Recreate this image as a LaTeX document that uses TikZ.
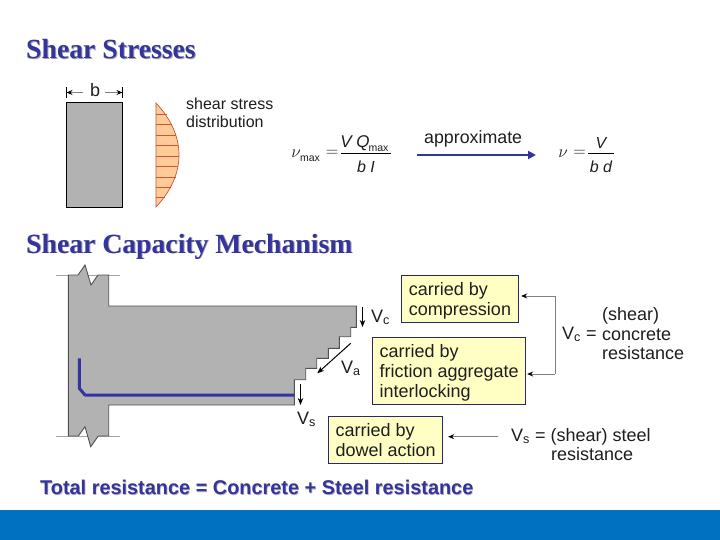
\documentclass[tikz,border=0pt]{standalone}
\usepackage{fontspec}
\usepackage{amsmath}
\setmainfont{Liberation Sans}
\newfontfamily\titlefont{Liberation Serif}
\usepackage{xcolor}
\usetikzlibrary{arrows.meta, positioning, calc}
\definecolor{titleblue}{RGB}{52, 52, 160}
\definecolor{barblue}{RGB}{0, 112, 192}
\definecolor{concrete}{RGB}{178, 178, 178}
\definecolor{notefill}{RGB}{255, 255, 196}
\definecolor{notedraw}{RGB}{40, 40, 110}
\definecolor{stressfill}{RGB}{255, 204, 153}
\definecolor{stressline}{RGB}{205, 85, 50}
\definecolor{inktext}{RGB}{30, 30, 30}
\newcommand{\notestrut}{\rule{0pt}{17.5pt}}
\tikzset{
    heading/.style={anchor=base west, inner sep=0pt, font=\titlefont\bfseries\fontsize{27.7}{28}\selectfont},
    totaltext/.style={anchor=base west, inner sep=0pt, font=\bfseries\fontsize{19.9}{20}\selectfont},
    label/.style={anchor=base west, inner sep=0pt, text=inktext, font=\fontsize{18}{19.5}\selectfont, align=left},
    note/.style={draw=notedraw, fill=notefill, line width=0.9pt, inner sep=0pt, align=left, text=inktext, font=\fontsize{18}{20}\selectfont},
    link/.style={draw=gray, line width=1pt, -{Stealth[black, length=6pt, width=5pt]}},
    force/.style={->, line width=1pt, >={Stealth[length=7pt, width=5.5pt]}},
    mathit/.style={inner sep=0pt, text=inktext, font=\itshape\fontsize{16}{16}\selectfont},
    mathrm/.style={inner sep=0pt, text=inktext, font=\fontsize{17}{17}\selectfont},
    smalltext/.style={inner sep=0pt, text=inktext, font=\fontsize{10.5}{11}\selectfont},
}
\begin{document}
\begin{tikzpicture}[x=1pt, y=-1pt, >=Stealth]
    \useasboundingbox (0,0) rectangle (720,540);
    \fill[white] (0,0) rectangle (720,540);
    \fill[barblue] (0,510) rectangle (720,540);

    % headings
    \node[heading, black!35] (stressshadow) at (27,60) {Shear Stresses};
    \node[heading, titleblue] (stresstitle) at (26,59) {Shear Stresses};
    \node[heading, black!35] (capacityshadow) at (27,254) {Shear Capacity Mechanism};
    \node[heading, titleblue] (capacitytitle) at (26,253) {Shear Capacity Mechanism};

    % section
    \draw[fill=concrete, line width=0.9pt] (66.5,102) rectangle (122.5,207);
    \draw[line width=0.8pt] (66.5,87) -- (66.5,98) (122.5,87) -- (122.5,98);
    \node[label] (bwidth) at (90,96.5) {b};
    \coordinate (bleft) at (66.5,92.5);
    \coordinate (bright) at (122.5,92.5);
    \draw[link] (83,92.5) -- (bleft);
    \draw[link] (105,92.5) -- (bright);

    % stress block
    \draw[fill=stressfill, draw=stressline, line width=0.7pt] (156,103) .. controls (172,120) and (179,138) .. (179,155) .. controls (179,172) and (172,190) .. (156,207) -- cycle;
    \foreach \ya/\xa in {114/166.5, 124/172, 135/176, 145/178.3, 156/179, 166/178.3, 177/175.5, 187/171, 197/165}
        \draw[stressline, line width=0.8pt] (156,\ya) -- (\xa,\ya);
    \node[label, font=\fontsize{16}{17.5}\selectfont] (stresstext) at (186,127.5) {shear stress\\distribution};

    % formulas
    \node[inner sep=0pt, text=inktext, font=\fontsize{19}{19}\selectfont] (numax) at (296,154) {$\nu$};
    \node[smalltext] (maxa) at (310,159) {max};
    \node[mathrm] (eqa) at (332,153) {$=$};
    \draw[line width=0.8pt] (341,153) -- (391,153);
    \node[mathit, font=\itshape\fontsize{17}{17}\selectfont] (vq) at (355,143) {V Q};
    \node[smalltext] (maxb) at (378.5,149) {max};
    \node[mathit] (bi) at (366,166.5) {b I};
    \node[label, font=\fontsize{17.8}{20}\selectfont] (approx) at (424,144) {approximate};
    \coordinate (arrowstart) at (417,155);
    \coordinate (arrowend) at (536,155);
    \draw[titleblue, line width=2.6pt, -{Stealth[length=8pt, width=8pt, inset=0pt]}] (arrowstart) -- (arrowend);
    \node[inner sep=0pt, text=inktext, font=\fontsize{19}{19}\selectfont] (nu) at (563,154) {$\nu$};
    \node[mathrm] (eqb) at (579.5,153) {$=$};
    \draw[line width=0.8pt] (588,153) -- (614,153);
    \node[mathit] (vb) at (601,143) {V};
    \node[mathit] (bd) at (601,166.5) {b d};

    % cantilever
    \draw[gray!70, line width=0.8pt] (56,275) -- (120,275) (56,436) -- (120,436);
    \draw[fill=concrete, draw=concrete!45!black, line width=0.9pt] (68.3,275) -- (78,275) -- (85,265) -- (91,285) -- (98,275) -- (108.7,275) -- (108.7,306)
        -- (356.3,306) -- (356.3,327.3) -- (350.7,327.3) -- (350.7,336.7) -- (339.3,336.7) -- (339.3,348.3) -- (328.3,348.3) -- (328.3,358.3)
        -- (316.7,358.3) -- (316.7,368.3) -- (305.7,368.3) -- (305.7,379.7) -- (294.3,379.7) -- (294.3,405) -- (108.7,405) -- (108.7,436)
        -- (98.3,436) -- (90.7,446.7) -- (85,426.7) -- (78.3,436) -- (68.3,436) -- cycle;
    \draw[titleblue, line width=3pt, line join=round] (79.3,358.3) -- (79.3,388.3) -- (85,395) -- (294.3,395);

    % forces
    \coordinate (vctop) at (362.5,306.7);
    \coordinate (vcend) at (362.5,327);
    \coordinate (vatop) at (350.7,343.3);
    \coordinate (vaend) at (317.3,373.3);
    \coordinate (vstop) at (300.5,384.3);
    \coordinate (vsend) at (300.5,405);
    \draw[force] (vctop) -- (vcend);
    \draw[force] (vatop) -- (vaend);
    \draw[force] (vstop) -- (vsend);
    \node[label] (vclabel) at (371,322) {V\textsubscript{c}};
    \node[label] (valabel) at (341,373) {V\textsubscript{a}};
    \node[label] (vslabel) at (297,424) {V\textsubscript{s}};

    % notes
    \node[note, minimum width=117.4pt, minimum height=47pt] (compression) at (460,298.8) {\notestrut carried by\\compression};
    \node[note, minimum width=153pt, minimum height=66.7pt] (friction) at (449.2,370.6) {\notestrut carried by\\friction aggregate\\interlocking};
    \node[note, minimum width=114pt, minimum height=47pt] (dowel) at (385.7,440.2) {carried by\\dowel action};

    % resistance
    \coordinate (vcupper) at (555,296);
    \coordinate (vclower) at (555,374);
    \draw[draw=gray, line width=1pt] (vcupper) -- (vclower);
    \draw[link, shorten >=2pt] (vcupper) -- (compression.east |- vcupper);
    \draw[link, shorten >=1pt] (vclower) -- (friction.east |- vclower);
    \node[label] (vceq) at (562,339) {V\textsubscript{c} =};
    \node[label] (vcword) at (602,359.5) {\hspace*{0pt}(shear)\\concrete\\resistance};
    \coordinate (vsstart) at (498.3,436.7);
    \draw[link, shorten >=5pt] (vsstart) -- (dowel.east |- vsstart);
    \node[label] (vseq) at (511,441) {V\textsubscript{s} = (shear) steel};
    \node[label] (vsword) at (551,460) {resistance};

    % total
    \node[totaltext, black!30] (totalshadow) at (40.7,495) {Total resistance = Concrete + Steel resistance};
    \node[totaltext, titleblue] (total) at (40,494.3) {Total resistance = Concrete + Steel resistance};
\end{tikzpicture}
\end{document}
